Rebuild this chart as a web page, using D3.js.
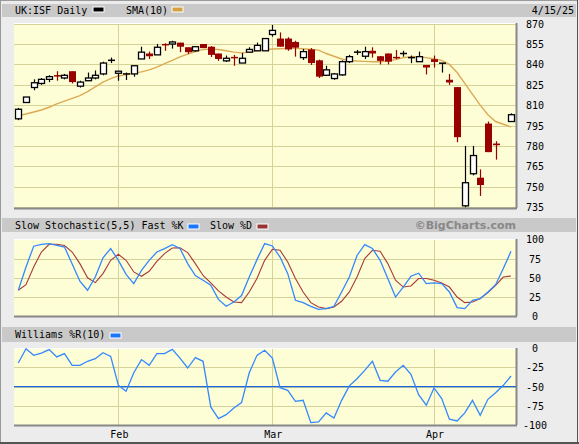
<!DOCTYPE html>
<html>
<head>
<meta charset="utf-8">
<script src="https://cdn.jsdelivr.net/npm/d3@7"></script>
<style>
  body { margin: 0; background: #ececec; }
  text { font-family: "DejaVu Sans Mono", monospace; font-size: 10px; fill: #000; }
</style>
</head>
<body>
<svg id="chart" width="579" height="444"></svg>
<script>
// candles: [open, high, low, close]; null = no bar that day
var ohlc = [
  [800,808,799,807],[812,816,812,816],[823,829,821,826.5],[826,830,825,829],[829,832,827,831],
  [831.6,835,828,830.6],[830,833,829,832],[835,835,826,827],[824,828,823,827],[828,834,828,830],
  [830,835.5,829,832],[833,842,832,841],[843,845,841,843],[833.5,835,828,835],[833,834,828.5,833],
  [833,839,831,839],[844,853,844,849],[848,849.4,844,846],[847,855,847,852.6],[854.5,855.5,850,853.5],
  [855,857.4,851.6,856.5],[856,856,849,853],[852.6,852.6,847.7,849],[850,853.5,849.4,853],[855,855,852,852],
  [853,853.5,845.5,847],[848,848,842.6,844],[842.6,846.5,841.8,844.5],[845,847,839,844],[841,848.4,841,844.5],
  [849,852.6,849,851],[850,856,850,854],[850,859,850,859],[862,869,860.4,865],[859,863.5,853,853],
  [859,860,850,851],[856.5,857.4,845.7,852.3],[845,851.3,843.3,849.4],[851,852,839.6,841],[843,843.5,830,831],
  [832,839,831.6,836],[829.6,833.5,828.7,833],[832.3,843,831.6,842],[842,847,841,845.7],[849,850.6,847,849],
  [846,853,844,849.4],[850,852.6,845,848],[846,846.2,840,842.6],[848,848,840,842],[845,850.6,843.8,844.5],
  [848,850,845.7,848],[845,846.5,840.9,845],[842,849.4,842,845.7],[839.6,839.6,832.6,837.7],[843.8,846.5,837.7,841.8],
  [840.9,841,834,840.9],[828.7,833,825,826.7],[823.3,823.3,782.8,786.5],[736,780,735,753],[759.6,780,758.4,773],
  [756.7,762.8,743.3,751.3],[796.5,798,775.5,775.5],[781.8,783.5,770,780.6],null,[798,804,798,803]
];
var sma10 = [802.3,803.5,805,806.5,808.5,811,813,815,817,820,823.5,827,829.5,831.5,832.5,833.5,834.5,836,838,840.5,
  843,845.5,847.5,849.5,851,851.2,851,850,849,848.5,849,850,850.8,851.3,851.5,851.8,851.8,851.5,851,850.5,
  848,846,844,843,842.5,842.2,842,842,842.5,843.5,845,845.6,845.4,845,844,843,840,834,826,818,
  810,803,798,796,794];
var fastK = [33.8,64,91,93.5,94.4,92,90,68,45.5,33.8,51,76,88,72.7,54.5,42.4,59.7,72.7,83.5,88,
  93,88,68.4,53,46.8,40.3,22,13,18.6,27,51,73.6,94.4,91.3,77,55.4,20.8,17.7,13,9,
  10,13,31.6,51,79,93,88,72.7,49,25,38,52,56,42.4,43.3,42.4,31.6,11.3,10,20.8,
  23,31.6,41,62,84.4];
var slowD = [33.8,41,64,83.5,93.5,93.5,92,83.5,68.4,50,43.7,55.4,72.7,80.5,72.7,57.6,52,58.4,71.4,81.4,
  88.7,89,82.7,68.4,53,43.3,33,25,18.6,17.7,31.6,49,72.7,87,85.7,70.6,49,31.6,17.7,12,
  10,12,19.5,31.6,51,75,85.7,84.4,68.4,46.8,38,39.4,49,49,46.8,43.3,38,25,17.7,18.6,
  23,30.7,40.3,51,52.4];
var willR = [-19.4,-1,-9.5,-6.5,-2,-11.6,-7.3,-22.4,-22.4,-17.2,-13.8,-6,-10.8,-48.3,-56,-32,-15,-22.4,-7.3,-7.3,
  -1.7,-13,-25.9,-12.5,-17.2,-76.3,-91.4,-86.2,-77.6,-70.7,-32,-9.5,-3,-13,-51.3,-54.7,-69,-67.7,-96.6,-95.7,
  -84,-90.5,-67.7,-49,-39.7,-29,-17.2,-41.8,-43,-31,-22.4,-34,-60.3,-74,-51.7,-65.5,-92,-94.4,-84,-67.7,
  -87,-66.4,-58,-48.3,-36.2];
var months = [{i:13,label:"Feb"},{i:33,label:"Mar"},{i:54,label:"Apr"}];
var priceTicks = [735,750,765,780,795,810,825,840,855,870];
var stochTicks = [0,25,50,75,100];
var willTicks = [0,-25,-50,-75,-100];

var svg = d3.select("#chart");
var x = d3.scaleLinear().domain([0, 64]).range([18.3, 511]);
var left = 14, right = 516;
var yellow = "#fdfdd6", grid = "#d6d39a";

// outer frame
svg.append("rect").attr("x",0.5).attr("y",0.5).attr("width",577).attr("height",442)
  .attr("fill","#ececec").attr("stroke","#9a9a9a");
svg.append("line").attr("x1",577.5).attr("x2",577.5).attr("y1",0).attr("y2",444).attr("stroke","#555");
svg.append("line").attr("x1",0).attr("x2",579).attr("y1",443).attr("y2",443).attr("stroke","#555").attr("stroke-width",2);

function header(y0, h) {
  svg.append("rect").attr("x",2).attr("y",y0).attr("width",574).attr("height",h).attr("fill","#c9c9c9");
}
function panel(top, bottom, y, ticks, fmt) {
  svg.append("rect").attr("x",left).attr("y",top).attr("width",right-left).attr("height",bottom-top)
    .attr("fill",yellow);
  svg.append("g").selectAll("line").data(ticks).join("line")
    .attr("x1",left).attr("x2",right).attr("y1",d=>Math.round(y(d))+0.5).attr("y2",d=>Math.round(y(d))+0.5)
    .attr("stroke",grid);
  svg.append("g").selectAll("line").data(months).join("line")
    .attr("x1",d=>Math.round(x(d.i))+0.5).attr("x2",d=>Math.round(x(d.i))+0.5).attr("y1",top).attr("y2",bottom)
    .attr("stroke",grid);
  svg.append("line").attr("x1",left).attr("x2",right).attr("y1",top+0.5).attr("y2",top+0.5).attr("stroke","#fff");
  svg.append("line").attr("x1",left).attr("x2",right+1).attr("y1",bottom+0.5).attr("y2",bottom+0.5).attr("stroke","#888").attr("stroke-width",2);
  svg.append("line").attr("x1",right+0.5).attr("x2",right+0.5).attr("y1",top).attr("y2",bottom).attr("stroke","#888").attr("stroke-width",2);
  svg.append("g").selectAll("text").data(ticks).join("text")
    .attr("x",right+19).attr("y",d=>y(d)+4).attr("text-anchor","middle").text(fmt);
}

// ---- main price panel
header(4, 13);
svg.append("text").attr("x",15).attr("y",14).text("UK:ISF Daily");
svg.append("rect").attr("x",93).attr("y",7).attr("width",11).attr("height",5).attr("fill","#000").attr("stroke","#fff");
svg.append("text").attr("x",126).attr("y",14).text("SMA(10)");
svg.append("rect").attr("x",172).attr("y",7).attr("width",11).attr("height",5).attr("fill","#d4a040").attr("stroke","#fff");
svg.append("text").attr("x",574).attr("y",14).attr("text-anchor","end").text("4/15/25");

var y = d3.scaleLinear().domain([735, 870]).range([207.2, 23.6]);
panel(23, 208, y, priceTicks, d=>d);

var sma = d3.line().x((d,i)=>x(i)).y(d=>y(d));
svg.append("path").datum(sma10).attr("fill","none").attr("stroke","#dcaa55").attr("stroke-width",1.4).attr("d",sma);

var bars = svg.append("g").selectAll("g").data(ohlc.map((d,i)=>({d:d,i:i})).filter(o=>o.d)).join("g");
bars.each(function(o) {
  var g = d3.select(this), d = o.d, cx = Math.round(x(o.i)) + 0.5;
  var up = d[3] >= d[0], col = up ? "#000" : "#990000";
  g.append("line").attr("x1",cx).attr("x2",cx).attr("y1",y(d[1])).attr("y2",y(d[2])).attr("stroke",col).attr("stroke-width",1.2);
  var top = y(Math.max(d[0],d[3])), bot = y(Math.min(d[0],d[3]));
  if (bot - top < 1.5) {
    g.append("line").attr("x1",cx-3.5).attr("x2",cx+3.5).attr("y1",top).attr("y2",top).attr("stroke",col).attr("stroke-width",1.5);
  } else if (up) {
    g.append("rect").attr("x",cx-3).attr("y",top).attr("width",6).attr("height",bot-top)
      .attr("fill","#fff").attr("stroke","#000").attr("stroke-width",1.3);
  } else {
    g.append("rect").attr("x",cx-3.5).attr("y",top).attr("width",7).attr("height",bot-top).attr("fill","#990000");
  }
});

// ---- stochastic panel
header(218, 14);
svg.append("text").attr("x",15).attr("y",229).text("Slow Stochastic(5,5) Fast %K");
svg.append("rect").attr("x",188).attr("y",224).attr("width",11).attr("height",5).attr("fill","#1a75ff").attr("stroke","#fff");
svg.append("text").attr("x",210).attr("y",229).text("Slow %D");
svg.append("rect").attr("x",257).attr("y",224).attr("width",11).attr("height",5).attr("fill","#993333").attr("stroke","#fff");
svg.append("text").attr("x",516).attr("y",229).attr("text-anchor","end")
  .style("font-family","DejaVu Sans").style("font-weight","bold").style("font-size","11px").style("fill","#888").text("©BigCharts.com");

var ys = d3.scaleLinear().domain([0, 100]).range([316.3, 239.3]);
panel(239, 316, ys, stochTicks, d=>d);
var ls = d3.line().x((d,i)=>x(i)).y(d=>ys(d));
svg.append("path").datum(slowD).attr("fill","none").attr("stroke","#a83a3a").attr("stroke-width",1.1).attr("d",ls);
svg.append("path").datum(fastK).attr("fill","none").attr("stroke","#3388ff").attr("stroke-width",1.3).attr("d",ls);

// ---- williams %R panel
header(327, 15);
svg.append("text").attr("x",15).attr("y",338).text("Williams %R(10)");
svg.append("rect").attr("x",110).attr("y",333).attr("width",11).attr("height",5).attr("fill","#1a75ff").attr("stroke","#fff");

var yw = d3.scaleLinear().domain([-100, 0]).range([425.3, 348]);
panel(348, 425, yw, willTicks, d=>d);
svg.append("line").attr("x1",left).attr("x2",right).attr("y1",yw(-50)).attr("y2",yw(-50)).attr("stroke","#1a66dd").attr("stroke-width",1.3);
svg.append("path").datum(willR).attr("fill","none").attr("stroke","#3388ff").attr("stroke-width",1.3)
  .attr("d", d3.line().x((d,i)=>x(i)).y(d=>yw(d)));

svg.append("g").selectAll("text").data(months).join("text")
  .attr("x",d=>x(d.i)+1).attr("y",438).attr("text-anchor","middle").text(d=>d.label);
</script>
</body>
</html>
